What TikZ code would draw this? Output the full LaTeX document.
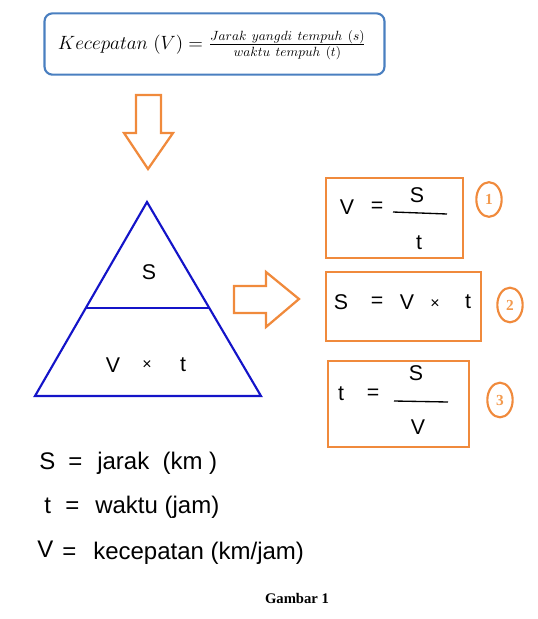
\documentclass[tikz,border=0pt]{standalone}
\usepackage{amsmath}
\usepackage{fontspec}
\setmainfont{Liberation Sans}
\newfontfamily\serifbold{Liberation Serif}
\usepackage{tikz}
\usetikzlibrary{calc, positioning, shapes.geometric}

\definecolor{boxblue}{HTML}{4A7FC0}
\definecolor{triblue}{HTML}{1414C8}
\definecolor{arrorange}{HTML}{F08A3C}
\definecolor{numorange}{HTML}{F39A4E}

\begin{document}
\begin{tikzpicture}[x=0.75pt, y=-0.75pt,
  letter/.style={inner sep=0pt, font=\fontsize{16}{18}\selectfont},
  timessign/.style={inner sep=0pt, font=\fontsize{12}{14}\selectfont},
  legend/.style={inner sep=0pt, anchor=base west, font=\fontsize{18}{20}\selectfont},
  ansbox/.style={draw=arrorange, line width=2pt},
  blockarrow/.style={draw=arrorange, line width=1.7pt, line join=miter},
  numcirc/.style={draw=arrorange, line width=1.6pt, ellipse, inner sep=0pt,
    minimum width=19pt, minimum height=26pt, text=numorange,
    font=\serifbold\bfseries\fontsize{11.5}{12}\selectfont}]
\useasboundingbox (0,0) rectangle (537,619);

% formula on top
\node[draw=boxblue, line width=1.6pt, rounded corners=6pt, minimum width=255pt,
  minimum height=46pt] (formula) at (214.5,44) {};
\node[inner sep=0pt, font=\fontsize{14.5}{17}\selectfont] (formulatext) at (212,45)
  {$Kecepatan\ (V)=\frac{Jarak\ yangdi\ tempuh\ (s)}{waktu\ tempuh\ (t)}$};

\draw[blockarrow] (136,95) -- (161,95) -- (161,133) -- (173,133) -- (148,169)
  -- (124,133) -- (136,133) -- cycle;

% triangle
\coordinate (top) at (147,202);
\coordinate (bl) at (35,396);
\coordinate (br) at (261,396);
\draw[triblue, line width=1.6pt, line join=miter] (top) -- (bl) -- (br) -- cycle;
\draw[triblue, line width=1.6pt] ($(top)!0.546!(bl)$) -- ($(top)!0.546!(br)$);
\node[letter] (tS) at (149,272) {S};
\node[letter] (tV) at (113,365) {V};
\node[timessign] (tx) at (147,365) {×};
\node[letter] (tt) at (183,365) {t};

\draw[blockarrow] (234,286) -- (266,286) -- (266,272) -- (299,299) -- (266,327)
  -- (266,313) -- (234,313) -- cycle;

% three forms
\draw[ansbox] (326,178) rectangle (463,258);
\node[letter] (aV) at (347,207) {V};
\node[letter] (aeq) at (377,207) {=};
\node[letter] (aS) at (417,195) {S};
\node[letter] (at) at (419,243) {t};
\draw[line width=1pt] (393,212) -- (447,214);
\node[numcirc] (n1) at (489,199.5) {1};

\draw[ansbox] (326,272) rectangle (481,341);
\node[letter] (bS) at (341,302) {S};
\node[letter] (beq) at (377,302) {=};
\node[letter] (bV) at (407,302) {V};
\node[timessign] (bx) at (435,304) {×};
\node[letter] (bt) at (468,302) {t};
\node[numcirc] (n2) at (510,305) {2};

\draw[ansbox] (328,361) rectangle (469,447);
\node[letter] (ct) at (341,394) {t};
\node[letter] (ceq) at (373,394) {=};
\node[letter] (cS) at (416,373) {S};
\node[letter] (cV) at (418,427) {V};
\draw[line width=1pt] (394,401) -- (448,402);
\node[numcirc] (n3) at (500,400) {3};

% legend
\node[legend] (lS) at (39,469) {S};
\node[legend] (leq1) at (68,469) {=};
\node[legend] (ljarak) at (97,469) {jarak\ \ (km\ )};
\node[legend] (lt) at (44,513) {t};
\node[legend] (leq2) at (65,513) {=};
\node[legend] (lwaktu) at (95,513) {waktu (jam)};
\node[legend] (lV) at (37,557) {V};
\node[legend] (leq3) at (62,559) {=};
\node[legend] (lkec) at (93,559) {kecepatan (km/jam)};

\node[inner sep=0pt, anchor=base, font=\serifbold\bfseries\fontsize{11}{13}\selectfont]
  (caption) at (297,603) {Gambar 1};
\end{tikzpicture}
\end{document}
